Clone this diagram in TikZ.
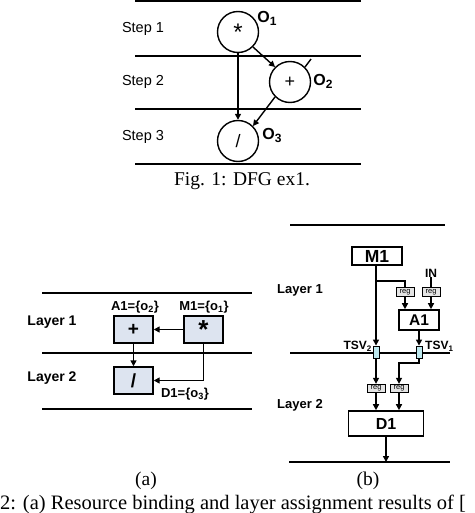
\documentclass[tikz,border=0pt]{standalone}
\usepackage{fontspec}
\setmainfont{Liberation Serif}
\newfontfamily\arial{Liberation Sans}
\usetikzlibrary{arrows.meta}
\definecolor{fuFill}{HTML}{DDE4F0}
\definecolor{tsvFill}{HTML}{BDE8EE}
\definecolor{regFill}{HTML}{E4E4E4}
\begin{document}
\begin{tikzpicture}[x=1pt,y=-1pt,
  sep/.style={line width=1.6pt},
  arr/.style={line width=1.4pt,-{Triangle[length=6pt,width=6pt]}},
  wire/.style={line width=1.4pt},
  op/.style={circle,draw,line width=1.4pt,minimum size=41pt,inner sep=0pt,font=\arial\fontsize{18}{18}\selectfont},
  stp/.style={font=\arial\fontsize{14.5}{14.5}\selectfont},
  olab/.style={font=\arial\bfseries\fontsize{16}{16}\selectfont,inner sep=0pt},
  lay/.style={font=\arial\bfseries\fontsize{14}{14}\selectfont},
  fu/.style={draw,line width=1.4pt,fill=fuFill,minimum width=39pt,minimum height=27pt,inner sep=0pt,font=\arial\bfseries\fontsize{19}{19}\selectfont},
  bind/.style={font=\arial\bfseries\fontsize{13}{13}\selectfont,inner sep=0pt},
  hw/.style={draw,line width=1.6pt,inner sep=0pt,font=\arial\bfseries\fontsize{16}{16}\selectfont},
  reg/.style={draw,line width=0.8pt,fill=regFill,minimum width=18pt,minimum height=8.5pt,inner sep=0pt,font=\arial\fontsize{7.5}{7.5}\selectfont},
  tsv/.style={draw,line width=0.9pt,fill=tsvFill,minimum width=6pt,minimum height=12pt,inner sep=0pt},
  tsvl/.style={font=\arial\bfseries\fontsize{12}{12}\selectfont,inner sep=0pt},
  captxt/.style={font=\fontsize{19.5}{19.5}\selectfont,inner sep=0pt}
]
\useasboundingbox (0,0) rectangle (474,513);

% ---------------- Fig. 1 ----------------
\draw[line width=3pt] (135,1) -- (361,1);
\draw[sep] (135,56) -- (361,56);
\draw[sep] (135,109) -- (361,109);
\draw[sep] (135,164) -- (361,164);
\node[stp] (s1) at (143,29) {Step 1};
\node[stp] (s2) at (143,82) {Step 2};
\node[stp] (s3) at (143,137) {Step 3};
\node[op] (o1) at (238,32) {\raisebox{-4pt}{\fontsize{24}{24}\selectfont *}};
\node[op] (o2) at (290,82) {+};
\node[op] (o3) at (238,141) {/};
\node[olab] (l1) at (267,18) {O\raisebox{-3pt}{\fontsize{12}{12}\selectfont 1}};
\node[olab] (l2) at (323,81) {O\raisebox{-3pt}{\fontsize{12}{12}\selectfont 2}};
\node[olab] (l3) at (272,135) {O\raisebox{-3pt}{\fontsize{12}{12}\selectfont 3}};
\draw[wire] (o2.45) -- ++(6,-8);
\draw[arr] (o1.south) -- (o3.north);
\draw[arr] (o1.-45) -- (o2.135);
\draw[arr] (o2.-135) -- (o3.45);
\node[captxt] (c1) at (242,181) {Fig. 1: DFG ex1.};

% ---------------- Fig. 2(a) ----------------
\draw[sep] (42,293) -- (252,293);
\draw[sep] (42,353) -- (252,353);
\draw[sep] (42,409) -- (252,409);
\node[lay] (la1) at (52,322) {Layer 1};
\node[lay] (la2) at (52,378) {Layer 2};
\node[fu] (add) at (133.5,329.5) {+};
\node[fu] (mul) at (203.5,329.5) {\raisebox{-5pt}{\fontsize{26}{26}\selectfont *}};
\node[fu] (div) at (133.5,380.5) {/};
\node[bind] (ba) at (135,307) {A1=\{o\textsubscript{2}\}};
\node[bind] (bm) at (204,307) {M1=\{o\textsubscript{1}\}};
\node[bind] (bd) at (185,394) {D1=\{o\textsubscript{3}\}};
\draw[arr] (mul.west) -- (add.east);
\draw[arr] (add.south) -- (div.north);
\draw[arr] (mul.south) |- (div.east);

% ---------------- Fig. 2(b) ----------------
\draw[sep] (290,225) -- (445,225);
\draw[sep] (290,353) -- (450,353);
\draw[sep] (289,462) -- (450,462);
\node[lay,font=\arial\bfseries\fontsize{13}{13}\selectfont] (lb1) at (300,290) {Layer 1};
\node[lay,font=\arial\bfseries\fontsize{13}{13}\selectfont] (lb2) at (300,405) {Layer 2};
\node[hw,minimum width=50pt,minimum height=18pt,font=\arial\bfseries\fontsize{17.5}{17.5}\selectfont] (m1) at (377,256) {M1};
\node[hw,minimum width=40pt,minimum height=20pt,font=\arial\bfseries\fontsize{15.5}{15.5}\selectfont] (a1) at (419,320) {A1};
\node[hw,minimum width=75pt,minimum height=25pt] (d1) at (386,423.5) {D1};
\node[tsvl] (in) at (431,273) {IN};
\node[reg] (r1) at (405,292) {reg};
\node[reg] (r2) at (431,292) {reg};
\node[reg] (r3) at (376,388.5) {reg};
\node[reg] (r4) at (399,388.5) {reg};
\node[tsv] (t2) at (376,352) {};
\node[tsv] (t1) at (419,352) {};
\node[tsvl,anchor=east] (t2l) at (372,346) {TSV\textsubscript{2}};
\node[tsvl,anchor=west] (t1l) at (425,346) {TSV\textsubscript{1}};
\coordinate (br) at (376,281);
\draw[arr] (m1.south -| t2) -- (t2.north);
\draw[wire] (br) -| (r1.north);
\draw[wire] (in.south) -- (r2.north);
\draw[arr] (r1.south) -- (r1.south |- a1.north);
\draw[arr] (r2.south) -- (r2.south |- a1.north);
\draw[arr] (a1.south) -- (t1.north);
\draw[arr] (t2.south) -- (r3.north);
\coordinate (bend) at (419,363);
\draw[arr] (t1.south) -- (bend) -| (r4.north);
\draw[arr] (r3.south) -- (r3.south |- d1.north);
\draw[arr] (r4.south) -- (r4.south |- d1.north);
\coordinate (outb) at (386,462);
\draw[arr] (d1.south) -- (outb);

% ---------------- captions ----------------
\node[captxt] (ca) at (146,481) {(a)};
\node[captxt] (cb) at (368,481) {(b)};
\node[captxt,font=\fontsize{20.5}{20.5}\selectfont,anchor=base west] (c2) at (0,509) {2: (a) Resource binding and layer assignment results of [};
\end{tikzpicture}
\end{document}
